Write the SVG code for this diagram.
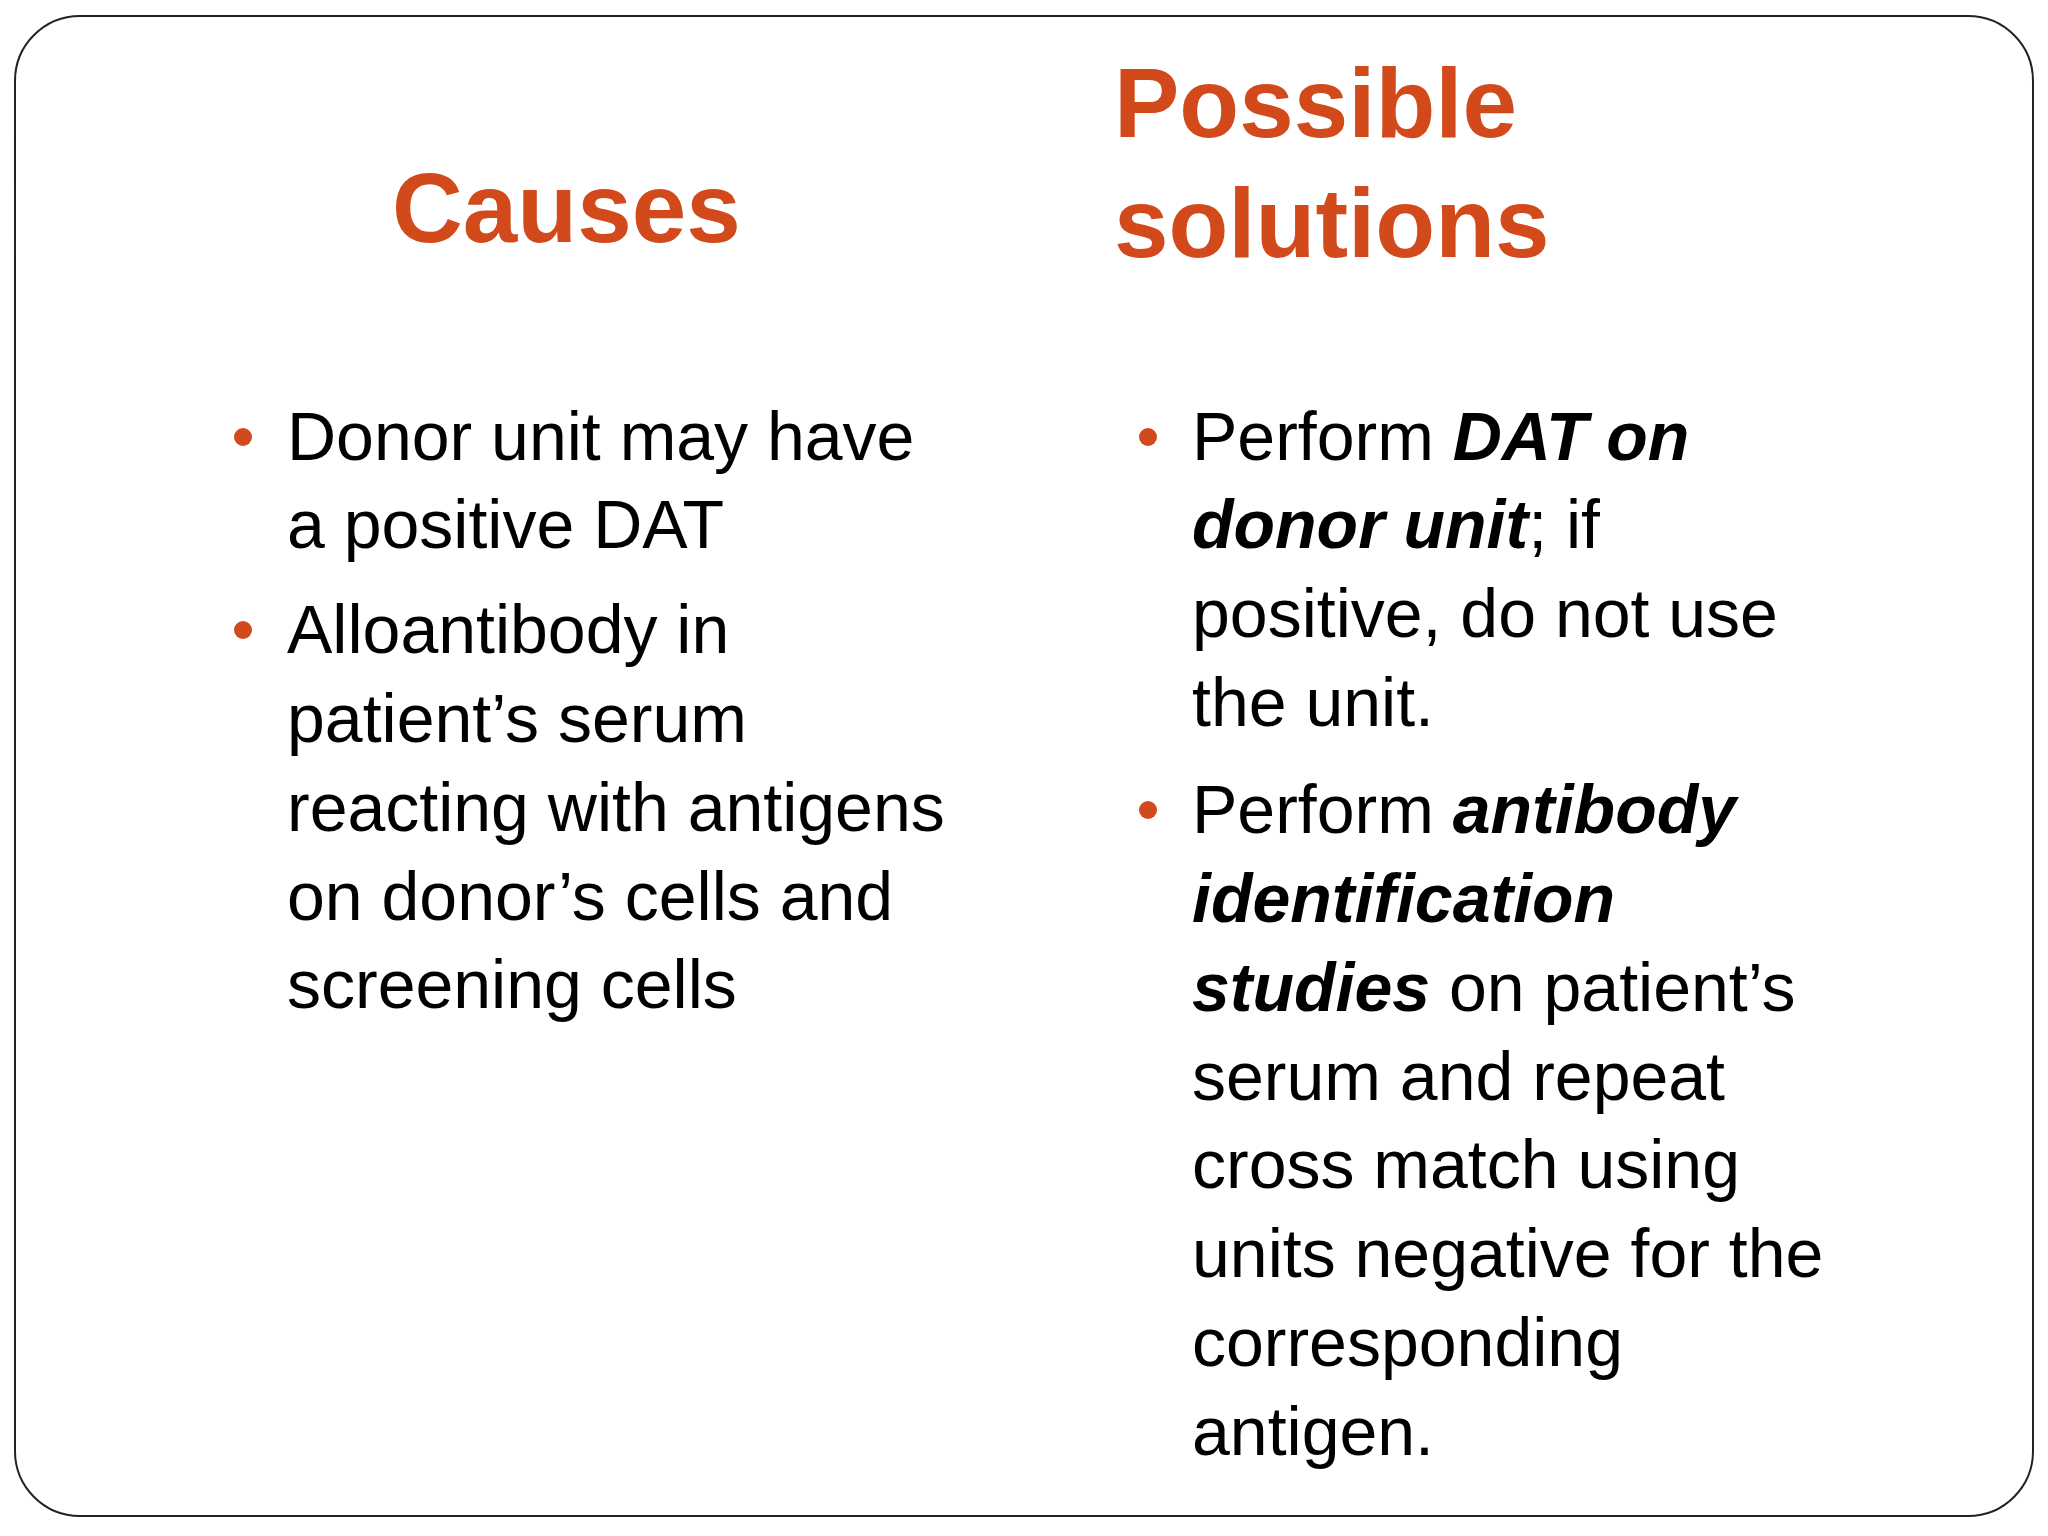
<svg xmlns="http://www.w3.org/2000/svg" width="2048" height="1536" viewBox="0 0 2048 1536">
<style>
.t{font-family:"Liberation Sans",Arial,sans-serif;font-size:68px;fill:#000}
.h{font-family:"Liberation Sans",Arial,sans-serif;font-size:98px;font-weight:bold;fill:#D24A1C}
.b{font-weight:bold;font-style:italic}
.d{fill:#D24A1C}
</style>
<rect x="0" y="0" width="2048" height="1536" fill="#fff"/>
<rect x="15" y="16" width="2018" height="1500" rx="65" fill="#fff" stroke="#222" stroke-width="2"/>
<g id="causes">
<text class="h" x="392" y="242">Causes</text>
<circle class="d" cx="243" cy="437" r="9"/>
<text class="t" x="287" y="460">Donor unit may have</text>
<text class="t" x="287" y="548">a positive DAT</text>
<circle class="d" cx="243" cy="630" r="9"/>
<text class="t" x="287" y="653">Alloantibody in</text>
<text class="t" x="287" y="742">patient’s serum</text>
<text class="t" x="287" y="831">reacting with antigens</text>
<text class="t" x="287" y="920">on donor’s cells and</text>
<text class="t" x="287" y="1008">screening cells</text>
</g>
<g id="solutions">
<text class="h" x="1114" y="137">Possible</text>
<text class="h" x="1114" y="257">solutions</text>
<circle class="d" cx="1148" cy="437" r="9"/>
<text class="t" x="1192" y="460">Perform <tspan class="b">DAT on</tspan></text>
<text class="t" x="1192" y="548"><tspan class="b">donor unit</tspan>; if</text>
<text class="t" x="1192" y="637">positive, do not use</text>
<text class="t" x="1192" y="726">the unit.</text>
<circle class="d" cx="1148" cy="810" r="9"/>
<text class="t" x="1192" y="833">Perform <tspan class="b">antibody</tspan></text>
<text class="t" x="1192" y="922"><tspan class="b">identification</tspan></text>
<text class="t" x="1192" y="1011"><tspan class="b">studies</tspan> on patient’s</text>
<text class="t" x="1192" y="1100">serum and repeat</text>
<text class="t" x="1192" y="1188">cross match using</text>
<text class="t" x="1192" y="1277">units negative for the</text>
<text class="t" x="1192" y="1366">corresponding</text>
<text class="t" x="1192" y="1455">antigen.</text>
</g>
</svg>
